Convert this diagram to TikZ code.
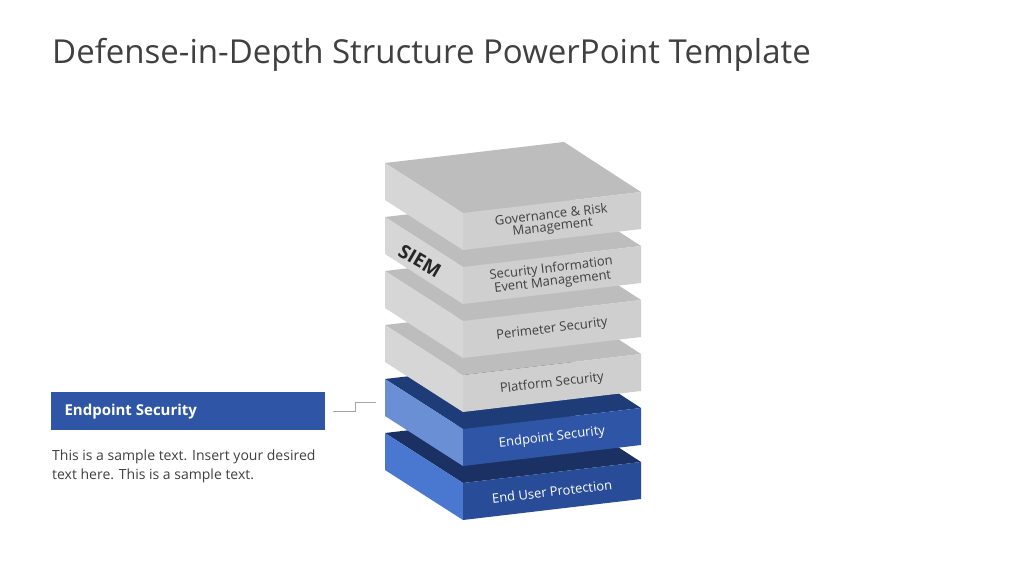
\documentclass[tikz,border=0pt]{standalone}
\usepackage{fontspec}
\setmainfont{Open Sans}
\usetikzlibrary{positioning,calc}
\definecolor{txtgray}{HTML}{404040}
\definecolor{gtop}{HTML}{BDBDBD}
\definecolor{gleft}{HTML}{D6D6D6}
\definecolor{gfront}{HTML}{CFCFCF}
\definecolor{btop}{HTML}{1E3C78}
\definecolor{bleft}{HTML}{6A8FD4}
\definecolor{bfront}{HTML}{2F56A6}
\definecolor{dtop}{HTML}{1C3163}
\definecolor{dleft}{HTML}{4A78D0}
\definecolor{dfront}{HTML}{284C98}
\tikzset{
  face/.style={draw=none},
  slabtext/.style={font=\fontsize{13}{12}\selectfont, align=center, rotate=6.7, inner sep=0pt},
}
\begin{document}
\begin{tikzpicture}[x=1pt,y=-1pt]
\useasboundingbox (0,0) rectangle (1024,576);
\fill[white] (0,0) rectangle (1024,576);
% title
\node[anchor=west, text=txtgray, font=\fontsize{33}{33}\selectfont, inner sep=0pt] (title) at (52,55) {Defense-in-Depth Structure PowerPoint Template};
% slabs, bottom first
\foreach \k/\ct/\cl/\cf/\tc/\lbl in {
  5/dtop/dleft/dfront/white/End User Protection,
  4/btop/bleft/bfront/white/Endpoint Security,
  3/gtop/gleft/gfront/txtgray/Platform Security,
  2/gtop/gleft/gfront/txtgray/Perimeter Security,
  1/gtop/gleft/gfront/txtgray/{Security Information\\Event Management},
  0/gtop/gleft/gfront/txtgray/{Governance \& Risk\\Management}}{
  \begin{scope}[yshift=-54*\k]
    \coordinate (L) at (385,163);
    \coordinate (B) at (564,142);
    \coordinate (R) at (641,192);
    \coordinate (F) at (463,213);
    \fill[\ct] (L) -- (B) -- (R) -- (F) -- cycle;
    \fill[\cl] (L) -- (F) -- ++(0,37) -- ($(L)+(0,37)$) -- cycle;
    \fill[\cf] (F) -- (R) -- ++(0,37) -- ($(F)+(0,37)$) -- cycle;
    \node[slabtext, text=\tc] (lbl\k) at ($(F)!0.5!(R)+(0,19)$) {\lbl};
  \end{scope}
}
% SIEM on left face
\node[font=\bfseries\fontsize{19}{19}\selectfont, text=black!85, rotate=-30, inner sep=0pt] (siem) at (420,261) {SIEM};
% side panel
\node[fill=bfront, minimum width=274pt, minimum height=38pt, anchor=north west, inner sep=0pt] (box) at (51,392) {};
\node[anchor=west, text=white, font=\bfseries\fontsize{15}{15}\selectfont] (boxtxt) at ([xshift=10pt]box.west) {Endpoint Security};
\node[anchor=north west, align=left, text=txtgray, font=\fontsize{14}{19}\selectfont, inner sep=0pt] (desc) at (52,450) {This is a sample text. Insert your desired\\text here. This is a sample text.};
\coordinate (tip) at (376,402);
\draw[gray!70, thin] ([xshift=8pt]box.east) -- ++(22,0) |- (tip);
\end{tikzpicture}
\end{document}
